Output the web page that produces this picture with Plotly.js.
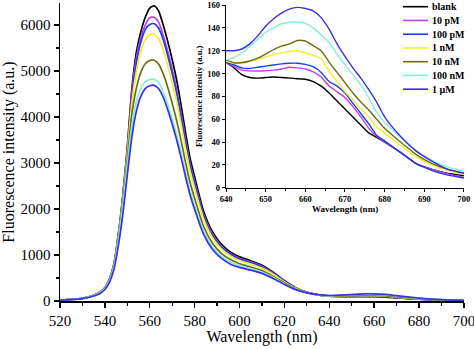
<!DOCTYPE html>
<html>
<head>
<meta charset="utf-8">
<script src="https://cdn.plot.ly/plotly-3.0.1.min.js"></script>
<style>html,body{margin:0;padding:0;background:#fff;}#chart{width:474px;height:349px;}</style>
</head>
<body>
<div id="chart"></div>
<script>
// ---- data ----
const seriesNames = ["blank", "10 pM", "100 pM", "1 nM", "10 nM", "100 nM", "1 µM"];

// main spectrum wavelengths (nm)
const wlMain = [520,525,530,535,538,540,542,544,546,548,550,552,554,556,558,560,562,564,566,568,570,572,574,576,578,580,584,588,592,596,600,605,610,615,620,625,630,635,640,645,650,655,660,665,670,675,680,690,700];

const mainBlank = [20,35,60,125,200,290,470,800,1450,2300,3350,4600,5400,5850,6170,6370,6420,6300,6000,5650,5250,4800,4250,3650,3100,2700,1950,1500,1230,1060,960,875,775,625,445,290,190,135,108,97,96,96,95,86,68,50,40,17,10];
const main10pM = [20,35,60,125,200,290,470,800,1440,2280,3320,4520,5280,5720,6000,6160,6170,6060,5780,5430,5040,4600,4070,3500,2980,2600,1880,1450,1190,1030,930,850,755,610,435,285,185,132,108,102,102,105,104,93,79,55,40,18,9];
const main100pM = [20,34,58,122,195,285,460,780,1400,2220,3250,4420,5170,5620,5900,6010,6030,5930,5680,5340,4950,4520,4000,3440,2940,2560,1850,1420,1170,1010,910,835,740,600,430,285,188,135,110,105,107,109,108,96,83,60,41,17,8.5];
const main1nM = [20,34,58,122,195,285,455,775,1390,2200,3200,4300,4980,5420,5680,5790,5800,5700,5460,5130,4750,4330,3830,3300,2820,2450,1780,1370,1130,980,880,805,715,580,415,278,185,135,111,111,115,119,118,110,84,65,48,22,12];
const main10nM = [20,33,57,120,190,280,445,760,1360,2130,3080,4050,4620,4970,5160,5230,5235,5150,4940,4650,4300,3920,3480,3000,2570,2230,1620,1250,1030,900,810,740,660,535,390,262,180,135,112,112,117,125,128,116,92,72,52,24,13];
const main100nM = [19,32,56,118,185,272,435,740,1320,2060,2960,3800,4330,4620,4770,4815,4820,4745,4550,4280,3960,3610,3210,2780,2380,2070,1510,1170,970,850,770,705,630,512,372,255,178,135,112,124,136,144.5,144,130,110,85,57,28,14.5];
const main1uM = [18,30,52,108,170,250,400,680,1200,1880,2740,3560,4120,4450,4620,4680,4690,4615,4430,4160,3850,3500,3110,2690,2300,1990,1450,1120,925,800,730,670,600,490,360,248,175,138,120,128,141.5,155,157,144,115,90,63,28,12.5];

// inset spectrum wavelengths (nm)
const wlInset = [640,642,644,646,648,650,652,654,656,658,660,662,664,666,668,670,672,674,676,678,680,684,688,692,696,700];

const insetBlank = [110,105,99,96.5,96,96.5,97,96.5,96,95.5,95,93,89,83,76,69,62,55,48,44,40,31,21,16,12.5,10.5];
const inset10pM = [110,106,103,102.3,102.2,102.5,103,104,105.5,105,104,101.5,97,89,84,79,71,62,52,45,40,31,21,16,12,9];
const inset100pM = [110,107.5,105,104.5,105.5,106.5,107.5,108.5,109,109,108,106,101,93,89,83,74,65,56,46,41,31,21,15,11,8.5];
const inset1nM = [111,109,110,111,112.5,114.5,116.5,118,119.5,120,118,116,113,102,93,84,77,69,62,53,48,37,27,20,15,12];
const inset10nM = [112,109.5,109.5,111,113.5,117,121,124,126,129,128.5,124.5,120,110,101,92,83,75,68,60,52,40,29,21,16,13];
const inset100nM = [112,114,118,124,130,136,140,143.5,145,145,144,140,134,127,117,108,99,90,79,66,57,44,32,24,18,14.5];
const inset1uM = [120,120,121.5,126,133,141.5,148,153,156.5,158,157,155,149,139,126,115,105,96,86,75,62,45,32,23,16,12.5];

const mainSeries = [mainBlank, main10pM, main100pM, main1nM, main10nM, main100nM, main1uM];
const insetSeries = [insetBlank, inset10pM, inset100pM, inset1nM, inset10nM, inset100nM, inset1uM];

// ---- styles ----
const colors = ["#000000", "#bf40e6", "#1f3fe6", "#f2ee2a", "#6e6e12", "#7ff2d6", "#3b2fe3"];
const serif = "Liberation Serif, Times New Roman, serif";

const traces = [];
mainSeries.forEach((ys, i) => {
  traces.push({x: wlMain, y: ys, type: "scatter", mode: "lines", name: seriesNames[i],
    line: {color: colors[i], width: 1.7, shape: "spline", smoothing: 0.6},
    xaxis: "x", yaxis: "y", showlegend: false, hoverinfo: "skip"});
});
insetSeries.forEach((ys, i) => {
  traces.push({x: wlInset, y: ys, type: "scatter", mode: "lines", name: seriesNames[i],
    line: {color: colors[i], width: 1.4, shape: "spline", smoothing: 0.6},
    xaxis: "x2", yaxis: "y2", showlegend: false, hoverinfo: "skip"});
});

// manual legend inside the inset
const M = {l: 60, r: 10, t: 3, b: 48};
const W = 474, H = 349;
const pw = W - M.l - M.r, ph = H - M.t - M.b;
const px2x = p => (p - M.l) / pw;
const py2y = p => (H - M.b - p) / ph;
const shapes = [], annotations = [];
seriesNames.forEach((nm, i) => {
  const py = 6.7 + 13.75 * i;
  shapes.push({type: "line", xref: "paper", yref: "paper",
    x0: px2x(403), x1: px2x(428), y0: py2y(py), y1: py2y(py),
    line: {color: colors[i], width: 1.6}});
  annotations.push({xref: "paper", yref: "paper", x: px2x(430), y: py2y(py),
    xanchor: "left", yanchor: "middle", showarrow: false, text: nm,
    font: {family: serif, size: 10, weight: "bold", color: "#000"}});
});

const axisCommon = {showgrid: false, zeroline: false, showline: true, linecolor: "#000",
  ticks: "outside", tickcolor: "#000", mirror: false, fixedrange: true,
  ticklabeloverflow: "allow"};

const layout = {
  width: W, height: H, margin: M,
  paper_bgcolor: "#fff", plot_bgcolor: "rgba(0,0,0,0)",
  showlegend: false,
  font: {family: serif, color: "#000"},
  xaxis: Object.assign({}, axisCommon, {
    range: [520, 700.05], tickmode: "array", tickvals: [520,540,560,580,600,620,640,660,680,700],
    ticktext: ["520","540","560","580","600","620","640","660","680","700"],
    ticklen: 5, tickwidth: 1.3, linewidth: 1.5,
    minor: {tickmode: "array", tickvals: [530,550,570,590,610,630,650,670,690], ticks: "outside", ticklen: 3, tickcolor: "#000", tickwidth: 1.2},
    tickfont: {family: serif, size: 15, color: "#000"},
    title: {text: "Wavelength (nm)", font: {family: serif, size: 16, color: "#000"}, standoff: 2},
    domain: [0, 1], anchor: "y"
  }),
  yaxis: Object.assign({}, axisCommon, {
    range: [0, 6480], dtick: 1000, tick0: 0, ticklen: 5, tickwidth: 1.3, linewidth: 1.5,
    minor: {dtick: 500, ticks: "outside", ticklen: 3, tickcolor: "#000", tickwidth: 1.2},
    tickfont: {family: serif, size: 15, color: "#000"},
    title: {text: "Fluorescence intensity (a.u.)", font: {family: serif, size: 16, color: "#000"}, standoff: 2},
    domain: [0, 1], anchor: "x"
  }),
  xaxis2: Object.assign({}, axisCommon, {
    range: [640, 700.02], dtick: 10, tick0: 640, ticklen: 3, tickwidth: 1, linewidth: 1.3,
    minor: {dtick: 5, ticks: "outside", ticklen: 2, tickcolor: "#000", tickwidth: 1},
    tickfont: {family: serif, size: 8.5, weight: "bold", color: "#000"},
    title: {text: "Wavelength (nm)", font: {family: serif, size: 9, weight: "bold", color: "#000"}, standoff: 1},
    domain: [px2x(226), 1], anchor: "y2"
  }),
  yaxis2: Object.assign({}, axisCommon, {
    range: [0, 160.05], tickmode: "array", tickvals: [0,20,40,60,80,100,120,140,160],
    ticktext: ["0","20","40","60","80","100","120","140","160"],
    ticklen: 3, tickwidth: 1, linewidth: 1.3,
    tickfont: {family: serif, size: 8.5, weight: "bold", color: "#000"},
    title: {text: "Fluorescence intensity (a.u.)", font: {family: serif, size: 8.5, weight: "bold", color: "#000"}, standoff: 3},
    domain: [py2y(187.7), py2y(5)], anchor: "x2"
  }),
  shapes: shapes,
  annotations: annotations
};

Plotly.newPlot("chart", traces, layout, {displayModeBar: false, staticPlot: true});
</script>
</body>
</html>
